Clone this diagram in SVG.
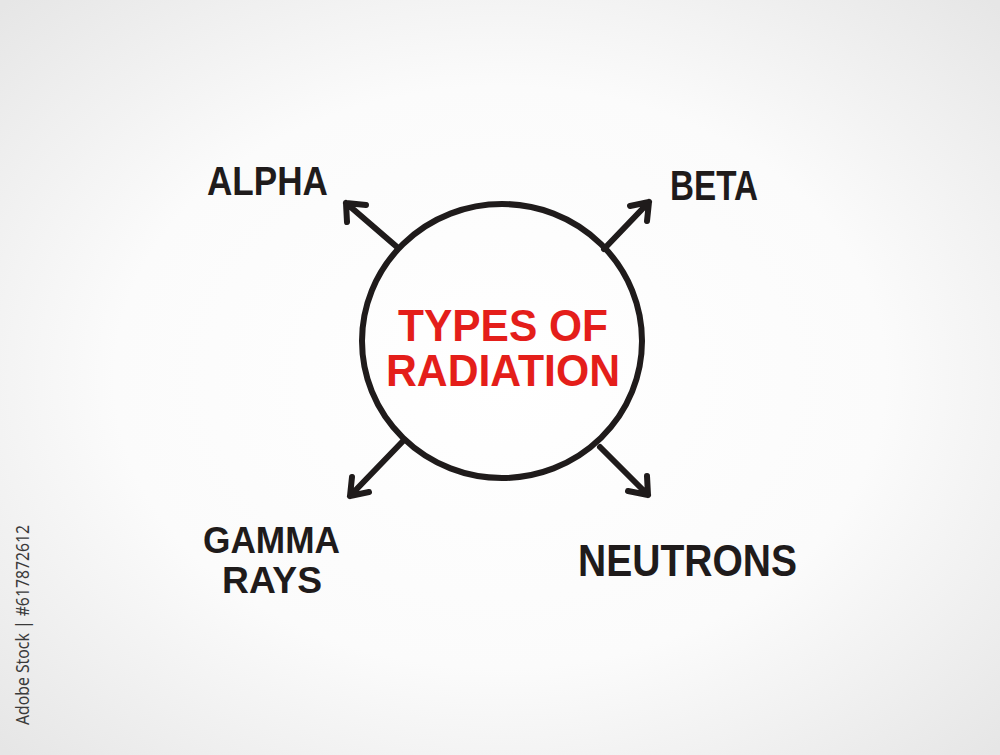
<svg xmlns="http://www.w3.org/2000/svg" width="1000" height="755" viewBox="0 0 1000 755">
<defs>
<radialGradient id="bg" cx="0.5" cy="0.5" r="0.7">
<stop offset="0" stop-color="#ffffff"/>
<stop offset="0.55" stop-color="#fbfbfb"/>
<stop offset="1" stop-color="#e6e6e6"/>
</radialGradient>
<style>
.lbl{font-family:"Liberation Sans",Arial,sans-serif;font-weight:bold;fill:#1f1b1b}
.ttl{font-family:"Liberation Sans",Arial,sans-serif;font-weight:bold;fill:#e41e1a}
.ln{stroke:#1f1b1b;stroke-width:6;stroke-linecap:round;stroke-linejoin:round;fill:none}
</style>
</defs>
<rect width="1000" height="755" fill="url(#bg)"/>
<g id="center">
<ellipse cx="502" cy="341" rx="140" ry="137" class="ln"/>
<text class="ttl" x="503" y="341" text-anchor="middle" font-size="44" textLength="210" lengthAdjust="spacingAndGlyphs">TYPES OF</text>
<text class="ttl" x="503" y="386" text-anchor="middle" font-size="44" textLength="234" lengthAdjust="spacingAndGlyphs">RADIATION</text>
</g>
<g id="connectors">
<path class="ln" d="M397 247 L346 203 M346 203 L347 222 M346 203 L366 205"/>
<path class="ln" d="M604 249 L649 202 M649 202 L630 206 M649 202 L647 221"/>
<path class="ln" d="M404 440 L350 496 M350 496 L369 492 M350 496 L352 477"/>
<path class="ln" d="M600 447 L648 495 M648 495 L647 476 M648 495 L628 491"/>
</g>
<g id="alpha"><text class="lbl" x="207" y="195" font-size="40" textLength="121" lengthAdjust="spacingAndGlyphs">ALPHA</text></g>
<g id="beta"><text class="lbl" x="670" y="200" font-size="42" textLength="88" lengthAdjust="spacingAndGlyphs">BETA</text></g>
<g id="gamma">
<text class="lbl" x="203" y="553" font-size="36" textLength="137" lengthAdjust="spacingAndGlyphs">GAMMA</text>
<text class="lbl" x="222" y="593" font-size="36" textLength="100" lengthAdjust="spacingAndGlyphs">RAYS</text>
</g>
<g id="neutrons"><text class="lbl" x="578" y="576" font-size="44" textLength="219" lengthAdjust="spacingAndGlyphs">NEUTRONS</text></g>
<text x="29" y="725" transform="rotate(-90 29 725)" font-family="'Noto Sans',sans-serif" font-size="18" fill="#3a3a3a" textLength="200" lengthAdjust="spacingAndGlyphs">Adobe Stock | #617872612</text>
</svg>
